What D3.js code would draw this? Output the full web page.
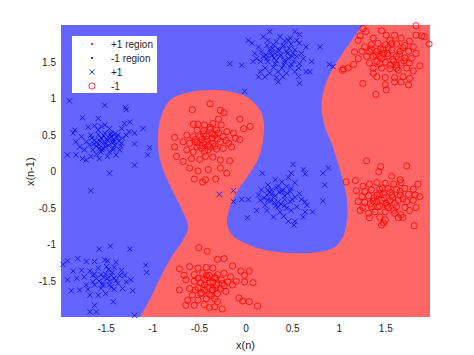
<!DOCTYPE html>
<html><head><meta charset="utf-8">
<script src="https://cdn.jsdelivr.net/npm/d3@7"></script>
<style>body{margin:0;background:#fff}svg{display:block}text{font-family:"Liberation Sans",Arial,sans-serif;fill:#262626}</style>
</head><body><svg id="c" width="474" height="355"></svg>
<script>
const xDomain = [-1.98, 1.98];
const yDomain = [-1.99, 2.01];
const xTicks = [-1.5, -1, -0.5, 0, 0.5, 1, 1.5];
const yTicks = [-1.5, -1, -0.5, 0, 0.5, 1, 1.5];
const xTickLabels = ["-1.5", "-1", "-0.5", "0", "0.5", "1", "1.5"];
const yTickLabels = ["-1.5", "-1", "-0.5", "0", "0.5", "1", "1.5"];
const xLabel = "x(n)";
const yLabel = "x(n-1)";
const legendLabels = ["+1 region", "-1 region", "+1", "-1"];

// boundary of the "-1" (red) decision region, from bottom edge round to top edge
const regionBoundary = [
[-1.131,-1.99],[-1.024,-1.744],[-0.906,-1.429],[-0.788,-1.155],[-0.670,-0.936],[-0.616,-0.758],
[-0.681,-0.525],[-0.788,-0.251],[-0.895,0.064],[-0.938,0.338],[-0.916,0.708],[-0.809,0.982],
[-0.595,1.092],[-0.381,1.119],[-0.198,1.105],[0.016,1.023],[0.155,0.845],[0.198,0.667],
[0.188,0.433],[0.145,0.201],[0.048,-0.018],[-0.080,-0.251],[-0.166,-0.484],[-0.198,-0.703],
[-0.145,-0.867],[-0.005,-0.977],[0.209,-1.073],[0.498,-1.114],[0.777,-1.100],[0.959,-1.032],
[1.045,-0.895],[1.088,-0.662],[1.088,-0.388],[1.045,-0.114],[0.991,0.119],[0.938,0.338],
[0.863,0.571],[0.820,0.804],[0.820,0.982],[0.852,1.174],[0.917,1.366],[1.045,1.626],[1.259,2.01]
];
const regionCorners = [[1.98,2.01],[1.98,-1.99]];

// class +1 samples (blue x)
const plusA = [[-1.89,0.97],[-1.51,0.91],[-1.29,0.88],[-1.28,0.85],[-1.75,0.74],[-1.58,0.73],[-1.24,0.68],[-1.30,0.66],[-1.69,0.61],[-1.62,0.63],[-1.55,0.62],[-1.51,0.64],[-1.46,0.59],[-1.33,0.59],[-1.10,0.59],[-1.83,0.57],[-1.85,0.53],[-1.25,0.55],[-1.19,0.53],[-1.28,0.50],[-1.76,0.48],[-1.66,0.50],[-1.58,0.51],[-1.51,0.53],[-1.44,0.53],[-1.37,0.50],[-1.32,0.46],[-1.82,0.41],[-1.71,0.41],[-1.62,0.43],[-1.55,0.46],[-1.48,0.43],[-1.41,0.41],[-1.33,0.39],[-1.19,0.38],[-1.03,0.33],[-1.78,0.34],[-1.67,0.37],[-1.57,0.37],[-1.50,0.34],[-1.42,0.33],[-1.73,0.30],[-1.64,0.30],[-1.55,0.27],[-1.46,0.27],[-1.35,0.30],[-1.91,0.23],[-1.82,0.23],[-1.75,0.18],[-1.66,0.21],[-1.57,0.18],[-1.48,0.21],[-1.39,0.23],[-1.05,0.23],[-1.71,0.16],[-1.19,0.09],[-1.46,-0.02],[-1.66,-0.26],[-1.60,0.24],[-1.53,0.32],[-1.44,0.48],[-1.58,0.57],[-1.52,0.40],[-1.46,0.46],[-1.40,0.36],[-1.60,0.35],[-1.54,0.30],[-1.42,0.44],[-1.36,0.42],[-1.65,0.46],
[-1.49,0.45],[-1.43,0.40],[-1.56,0.42],[-1.47,0.36],[-1.38,0.47],[-1.60,0.40],[-1.52,0.49],[-1.45,0.51],[-1.34,0.35],[-1.57,0.32],[-1.42,0.30],[-1.63,0.38],[-1.50,0.38],[-1.40,0.52]];
const plusB = [[0.26,1.92],[0.53,1.92],[0.58,1.88],[0.19,1.85],[0.37,1.85],[0.48,1.83],[0.03,1.80],[0.07,1.76],[0.24,1.80],[0.33,1.78],[0.42,1.79],[0.55,1.80],[0.14,1.71],[0.23,1.73],[0.30,1.74],[0.41,1.73],[0.49,1.75],[0.58,1.76],[0.65,1.71],[0.80,1.71],[0.10,1.62],[0.17,1.64],[0.26,1.67],[0.35,1.68],[0.44,1.65],[0.53,1.67],[0.60,1.62],[0.12,1.55],[0.19,1.58],[0.28,1.59],[0.37,1.58],[0.46,1.55],[0.55,1.58],[0.62,1.55],[0.71,1.51],[0.08,1.51],[0.16,1.51],[0.24,1.51],[0.32,1.48],[0.42,1.50],[0.49,1.47],[0.58,1.48],[0.21,1.42],[0.30,1.43],[0.39,1.42],[0.48,1.43],[0.57,1.42],[0.65,1.37],[0.16,1.37],[0.26,1.35],[0.35,1.37],[0.44,1.35],[0.53,1.37],[0.69,1.37],[0.14,1.30],[0.21,1.30],[0.33,1.29],[0.40,1.30],[0.57,1.30],[0.35,1.23],[0.58,1.21],[-0.17,1.48],[-0.04,1.46],[0.90,1.47],[0.94,1.44],[-0.01,1.10],[0.46,1.80],[0.51,1.62],[0.32,1.62],[0.41,1.46],[0.23,1.55],
[0.38,1.60],[0.31,1.56],[0.45,1.62],[0.36,1.66],[0.27,1.63],[0.50,1.58],[0.42,1.53],[0.33,1.52],[0.47,1.69],[0.22,1.60],[0.40,1.72],[0.52,1.51],[0.29,1.69]];
const plusC = [[0.51,0.10],[0.62,0.03],[0.49,-0.02],[0.64,-0.03],[0.18,-0.02],[0.46,-0.08],[0.83,-0.02],[0.89,0.05],[0.85,-0.18],[0.32,-0.11],[0.39,-0.14],[0.53,-0.15],[0.24,-0.18],[0.35,-0.20],[0.44,-0.20],[0.49,-0.23],[-0.13,-0.26],[0.17,-0.25],[0.28,-0.25],[0.39,-0.27],[0.48,-0.27],[0.58,-0.30],[0.14,-0.32],[0.23,-0.32],[0.32,-0.33],[0.42,-0.33],[0.53,-0.35],[0.64,-0.41],[-0.04,-0.38],[0.03,-0.38],[-0.13,-0.41],[0.16,-0.39],[0.24,-0.39],[0.35,-0.41],[0.48,-0.41],[0.60,-0.38],[0.83,-0.40],[0.21,-0.46],[0.32,-0.47],[0.42,-0.46],[0.55,-0.48],[0.66,-0.46],[0.12,-0.53],[0.23,-0.53],[0.37,-0.55],[0.49,-0.53],[0.64,-0.55],[0.72,-0.55],[0.30,-0.62],[0.41,-0.61],[0.62,-0.62],[0.02,-0.63],[0.46,-0.68],[0.52,-0.73],[0.53,-0.68],[0.28,-0.30],[0.35,-0.48],[0.24,-0.25],[0.44,-0.50],[-0.28,-0.31],
[0.36,-0.28],[0.30,-0.35],[0.42,-0.38],[0.27,-0.40],[0.45,-0.30],[0.33,-0.22],[0.38,-0.44],[0.20,-0.36],[0.50,-0.38],[0.26,-0.28],[0.40,-0.25],[0.31,-0.42]];
const plusD = [[-1.45,-1.02],[-1.57,-1.06],[-1.24,-1.06],[-1.91,-1.22],[-1.80,-1.19],[-1.96,-1.27],[-1.71,-1.23],[-1.62,-1.23],[-1.51,-1.21],[-1.48,-1.22],[-1.39,-1.24],[-1.07,-1.28],[-1.06,-1.38],[-1.85,-1.36],[-1.76,-1.35],[-1.67,-1.36],[-1.58,-1.32],[-1.49,-1.30],[-1.41,-1.31],[-1.33,-1.35],[-1.91,-1.48],[-1.81,-1.46],[-1.73,-1.44],[-1.64,-1.42],[-1.55,-1.41],[-1.44,-1.42],[-1.35,-1.42],[-1.23,-1.48],[-1.87,-1.63],[-1.78,-1.62],[-1.69,-1.61],[-1.62,-1.55],[-1.53,-1.53],[-1.46,-1.55],[-1.37,-1.53],[-1.28,-1.51],[-1.67,-1.69],[-1.58,-1.69],[-1.50,-1.67],[-1.41,-1.61],[-1.32,-1.60],[-1.21,-1.63],[-1.62,-1.83],[-1.42,-1.78],[-1.67,-1.92],[-1.60,-1.92],[-1.19,-1.97],[-1.71,-1.55],[-1.48,-1.46],[-1.55,-1.60],[-1.64,-1.51],[-1.41,-1.46],[-1.30,-1.42],
[-1.52,-1.45],[-1.46,-1.50],[-1.57,-1.50],[-1.50,-1.40],[-1.43,-1.38],[-1.60,-1.46],[-1.53,-1.56],[-1.44,-1.58],[-1.39,-1.49],[-1.62,-1.40],[-1.47,-1.34]];

// class -1 samples (red o)
const minusA = [[-0.38,0.93],[-0.57,0.85],[-0.27,0.84],[-0.23,0.81],[-0.06,0.72],[-0.29,0.72],[0.05,0.62],[-0.02,0.59],[-0.56,0.65],[-0.51,0.65],[-0.44,0.64],[-0.35,0.66],[-0.26,0.64],[-0.20,0.55],[-0.52,0.57],[-0.45,0.56],[-0.38,0.58],[-0.31,0.57],[-0.13,0.53],[-0.76,0.47],[-0.63,0.50],[-0.56,0.48],[-0.49,0.48],[-0.42,0.49],[-0.33,0.50],[-0.24,0.48],[-0.11,0.46],[-0.06,0.44],[-0.76,0.34],[-0.67,0.41],[-0.60,0.39],[-0.52,0.40],[-0.43,0.41],[-0.35,0.39],[-0.27,0.41],[-0.18,0.39],[-0.74,0.21],[-0.63,0.30],[-0.56,0.27],[-0.47,0.32],[-0.40,0.30],[-0.31,0.31],[-0.24,0.32],[-0.15,0.34],[-0.67,0.14],[-0.58,0.18],[-0.49,0.17],[-0.43,0.21],[-0.35,0.20],[-0.27,0.16],[-0.17,0.15],[-0.60,0.05],[-0.51,0.01],[-0.40,0.03],[-0.27,0.05],[-0.20,-0.02],[-0.55,-0.10],[-0.46,-0.14],[-0.43,-0.11],[-0.32,-0.10],[-0.45,0.39],[-0.38,0.34],[-0.52,0.34],[-0.36,0.46],
[-0.41,0.44],[-0.47,0.44],[-0.36,0.52],[-0.30,0.45],[-0.45,0.52],[-0.40,0.36],[-0.33,0.35],[-0.49,0.36],[-0.38,0.61],[-0.29,0.53],[-0.54,0.44],[-0.21,0.43],[-0.44,0.28]];
const minusB = [[1.83,2.00],[1.26,1.96],[1.29,1.92],[1.46,1.93],[1.83,1.87],[1.89,1.86],[1.92,1.85],[1.97,1.75],[1.23,1.86],[1.21,1.80],[1.37,1.83],[1.51,1.87],[1.60,1.87],[1.55,1.80],[1.67,1.83],[1.76,1.79],[1.28,1.71],[1.35,1.74],[1.42,1.76],[1.50,1.74],[1.62,1.75],[1.71,1.73],[1.80,1.71],[1.17,1.64],[1.25,1.65],[1.33,1.65],[1.41,1.65],[1.48,1.67],[1.57,1.67],[1.66,1.65],[1.75,1.65],[1.83,1.62],[1.30,1.58],[1.37,1.58],[1.44,1.58],[1.53,1.59],[1.62,1.58],[1.71,1.56],[1.78,1.55],[1.05,1.41],[1.10,1.42],[1.16,1.47],[1.33,1.49],[1.41,1.51],[1.50,1.50],[1.59,1.51],[1.67,1.49],[1.76,1.49],[1.87,1.45],[1.37,1.42],[1.46,1.42],[1.55,1.41],[1.64,1.39],[1.73,1.42],[1.80,1.38],[1.41,1.30],[1.50,1.29],[1.60,1.29],[1.69,1.30],[1.76,1.28],[1.26,1.21],[1.50,1.19],[1.60,1.23],[1.67,1.23],[1.75,1.19],[1.40,1.06],[1.51,1.12],[1.46,1.55],[1.55,1.46],[1.62,1.46],[1.48,1.62],[1.37,1.35],[1.21,1.55],[1.04,1.39],
[1.52,1.62],[1.45,1.68],[1.58,1.54],[1.65,1.61],[1.40,1.60],[1.53,1.70],[1.69,1.70],[1.57,1.76],[1.35,1.68],[1.62,1.42],[1.70,1.52],[1.44,1.48]];
const minusC = [[1.30,0.15],[1.45,0.07],[1.43,0.00],[1.73,0.08],[1.57,-0.06],[1.08,-0.14],[1.18,-0.12],[1.66,-0.11],[1.67,-0.15],[1.85,-0.17],[1.26,-0.20],[1.33,-0.17],[1.41,-0.15],[1.50,-0.16],[1.59,-0.17],[1.19,-0.26],[1.28,-0.27],[1.35,-0.25],[1.44,-0.24],[1.53,-0.23],[1.62,-0.24],[1.71,-0.23],[1.80,-0.24],[1.87,-0.34],[1.25,-0.34],[1.32,-0.33],[1.41,-0.32],[1.48,-0.31],[1.57,-0.32],[1.66,-0.32],[1.75,-0.31],[1.82,-0.32],[1.21,-0.41],[1.28,-0.42],[1.37,-0.40],[1.46,-0.39],[1.55,-0.40],[1.64,-0.39],[1.73,-0.41],[1.80,-0.39],[1.26,-0.49],[1.35,-0.48],[1.44,-0.47],[1.53,-0.49],[1.62,-0.48],[1.71,-0.49],[1.83,-0.49],[1.23,-0.53],[1.39,-0.55],[1.50,-0.55],[1.60,-0.57],[1.67,-0.59],[1.76,-0.53],[1.33,-0.63],[1.44,-0.62],[1.50,-0.66],[1.64,-0.63],[1.69,-0.63],[1.46,-0.73],[1.48,-0.70],[1.81,-0.74],[1.41,-0.41],[1.51,-0.43],[1.59,-0.53],[1.32,-0.57],
[1.49,-0.36],[1.44,-0.30],[1.55,-0.28],[1.38,-0.36],[1.60,-0.43],[1.52,-0.46],[1.47,-0.22],[1.66,-0.27],[1.34,-0.44],[1.69,-0.37],[1.58,-0.35],[1.42,-0.48]];
const minusD = [[-0.50,-1.04],[-0.41,-1.09],[-0.30,-1.20],[-0.23,-1.19],[-0.71,-1.33],[-0.60,-1.30],[-0.51,-1.32],[-0.42,-1.31],[-0.35,-1.32],[-0.14,-1.29],[-0.05,-1.36],[0.04,-1.36],[-0.66,-1.42],[-0.55,-1.41],[-0.46,-1.39],[-0.39,-1.42],[-0.30,-1.41],[-0.23,-1.39],[-0.16,-1.44],[-0.01,-1.42],[-0.64,-1.48],[-0.55,-1.50],[-0.44,-1.48],[-0.35,-1.51],[-0.26,-1.48],[-0.19,-1.51],[-0.10,-1.50],[-0.71,-1.62],[-0.60,-1.60],[-0.51,-1.59],[-0.41,-1.58],[-0.32,-1.59],[-0.23,-1.56],[-0.14,-1.55],[-0.01,-1.51],[0.08,-1.52],[-0.57,-1.69],[-0.48,-1.67],[-0.39,-1.68],[-0.30,-1.67],[-0.21,-1.64],[-0.62,-1.76],[-0.51,-1.76],[-0.42,-1.74],[-0.33,-1.74],[-0.64,-1.83],[-0.55,-1.83],[-0.44,-1.82],[-0.33,-1.85],[-0.25,-1.88],[-0.39,-1.86],[-0.07,-1.73],[-0.03,-1.77],[0.04,-1.78],[0.13,-1.84],[-0.35,-1.62],[-0.44,-1.62],[-0.30,-1.78],[-0.51,-1.46],[-0.41,-1.45],[-0.33,-1.45],
[-0.38,-1.52],[-0.44,-1.55],[-0.31,-1.55],[-0.36,-1.62],[-0.27,-1.60],[-0.47,-1.66],[-0.42,-1.42],[-0.32,-1.46],[-0.48,-1.52],[-0.25,-1.53],[-0.37,-1.70],[-0.54,-1.62]];

const plusPoints = [].concat(plusA, plusB, plusC, plusD);
const minusPoints = [].concat(minusA, minusB, minusC, minusD);

const BLUE_REGION = "rgb(100,100,255)", RED_REGION = "rgb(255,102,102)";
const BLUE = "#0000ff", RED = "#ff0000";
const W = 474, H = 355, m = {l: 61, r: 44, t: 25, b: 38};
const svg = d3.select("#c");
const x = d3.scaleLinear().domain(xDomain).range([m.l, W - m.r]);
const y = d3.scaleLinear().domain(yDomain).range([H - m.b, m.t]);

svg.append("rect").attr("x", x(xDomain[0])).attr("y", y(yDomain[1]))
  .attr("width", x(xDomain[1]) - x(xDomain[0])).attr("height", y(yDomain[0]) - y(yDomain[1]))
  .attr("fill", BLUE_REGION);
const curveLine = d3.line().x(d => x(d[0])).y(d => y(d[1])).curve(d3.curveCatmullRom);
const straight = d3.line().x(d => x(d[0])).y(d => y(d[1]));
const pathD = curveLine(regionBoundary) + straight(regionCorners).replace(/^M/, "L") + "Z";
svg.append("path").attr("d", pathD).attr("fill", RED_REGION);

const xa = svg.append("g").attr("transform", `translate(0,${H - m.b})`)
  .call(d3.axisBottom(x).tickValues(xTicks).tickFormat((d, i) => xTickLabels[i]).tickSize(0).tickPadding(8));
const ya = svg.append("g").attr("transform", `translate(${m.l},0)`)
  .call(d3.axisLeft(y).tickValues(yTicks).tickFormat((d, i) => yTickLabels[i]).tickSize(0).tickPadding(5));
[xa, ya].forEach(g => { g.select(".domain").remove(); g.selectAll("text").style("font-size", "10px").attr("fill", "#262626")
  .style("font-family", '"Liberation Sans",Arial,sans-serif'); });

svg.append("text").attr("x", x(0)).attr("y", 349).attr("text-anchor", "middle").style("font-size", "11px").text(xLabel);
svg.append("text").attr("transform", `translate(34,${y(0)}) rotate(-90)`).attr("text-anchor", "middle").style("font-size", "11px").text(yLabel);

const cross = "M-2.6,-2.6L2.6,2.6M-2.6,2.6L2.6,-2.6";
svg.append("g").selectAll("path").data(plusPoints).join("path")
  .attr("transform", d => `translate(${x(d[0])},${y(d[1])})`).attr("d", cross)
  .attr("stroke", BLUE).attr("stroke-width", 0.8).attr("fill", "none");
svg.append("g").selectAll("circle").data(minusPoints).join("circle")
  .attr("cx", d => x(d[0])).attr("cy", d => y(d[1])).attr("r", 3.1)
  .attr("stroke", RED).attr("stroke-width", 0.8).attr("fill", "none");

const lg = svg.append("g");
lg.append("rect").attr("x", 72).attr("y", 36).attr("width", 85).attr("height", 57).attr("fill", "#fff");
const rows = [44, 58, 72, 86];
lg.append("circle").attr("cx", 92).attr("cy", rows[0]).attr("r", 1.1).attr("fill", RED);
lg.append("circle").attr("cx", 92).attr("cy", rows[1]).attr("r", 1.1).attr("fill", BLUE);
lg.append("path").attr("transform", `translate(92,${rows[2]})`).attr("d", cross).attr("stroke", BLUE).attr("stroke-width", 0.8).attr("fill", "none");
lg.append("circle").attr("cx", 92).attr("cy", rows[3]).attr("r", 3.1).attr("stroke", RED).attr("stroke-width", 0.8).attr("fill", "none");
legendLabels.forEach((t, i) => lg.append("text").attr("x", 111).attr("y", rows[i]).attr("dy", "0.35em").style("font-size", "10px").text(t));
</script></body></html>
